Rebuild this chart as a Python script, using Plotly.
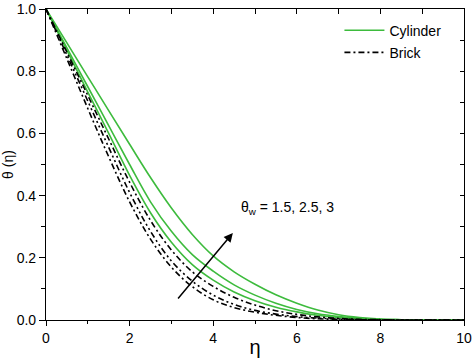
import plotly.graph_objects as go

eta = [0, 0.5, 1, 1.5, 2, 2.5, 3, 3.5, 4, 4.5, 5, 5.5, 6, 6.5, 7, 7.5, 8, 8.5, 9, 9.5, 10]

cyl_15 = [1.0, 0.867, 0.733, 0.600, 0.465, 0.345, 0.250, 0.178, 0.128, 0.090, 0.062, 0.041, 0.026, 0.015, 0.008, 0.004, 0.001, 0, 0, 0, 0]
cyl_25 = [1.0, 0.875, 0.750, 0.625, 0.500, 0.380, 0.285, 0.210, 0.157, 0.113, 0.080, 0.054, 0.034, 0.020, 0.011, 0.005, 0.002, 0.001, 0, 0, 0]
cyl_30 = [1.0, 0.891, 0.782, 0.673, 0.565, 0.458, 0.360, 0.275, 0.206, 0.155, 0.115, 0.081, 0.054, 0.032, 0.017, 0.008, 0.003, 0.001, 0, 0, 0]

brk_15 = [1.0, 0.840, 0.680, 0.525, 0.380, 0.260, 0.170, 0.107, 0.065, 0.040, 0.025, 0.015, 0.008, 0.004, 0.002, 0.001, 0, 0, 0, 0, 0]
brk_25 = [1.0, 0.852, 0.704, 0.555, 0.410, 0.285, 0.190, 0.125, 0.080, 0.050, 0.031, 0.019, 0.011, 0.006, 0.003, 0.001, 0, 0, 0, 0, 0]
brk_30 = [1.0, 0.861, 0.722, 0.582, 0.443, 0.320, 0.225, 0.155, 0.108, 0.073, 0.048, 0.030, 0.018, 0.010, 0.005, 0.002, 0.001, 0, 0, 0, 0]

x_ticks = [0, 2, 4, 6, 8, 10]
y_ticks = [0.0, 0.2, 0.4, 0.6, 0.8, 1.0]

GREEN = "#3dbb3d"
FONT = "Liberation Sans, Arial, sans-serif"

fig = go.Figure()

for i, ys in enumerate([cyl_15, cyl_25, cyl_30]):
    fig.add_trace(go.Scatter(x=eta, y=ys, mode="lines", line=dict(color=GREEN, width=1.6, shape="spline"),
                             name="Cylinder", showlegend=(i == 0), legendgroup="c"))

dashes = ["6px,3px,2px,3px", "6px,3px,2px,3px,2px,3px", "6px,3px,2px,3px"]
for i, ys in enumerate([brk_15, brk_25, brk_30]):
    fig.add_trace(go.Scatter(x=eta, y=ys, mode="lines", line=dict(color="black", width=1.6, dash=dashes[i], shape="spline"),
                             name="Brick", showlegend=(i == 0), legendgroup="b"))

# mirror axes with inward ticks
fig.add_trace(go.Scatter(x=[0], y=[0], xaxis="x2", yaxis="y2", mode="markers",
                         marker=dict(opacity=0), showlegend=False, hoverinfo="skip"))

axis_common = dict(showgrid=False, zeroline=False, showline=True, linecolor="black", linewidth=1.2,
                   automargin=False)

fig.update_layout(
    width=474, height=358,
    margin=dict(l=46, r=10, t=9, b=38),
    plot_bgcolor="white", paper_bgcolor="white",
    font=dict(family=FONT, size=14, color="black"),
    xaxis=dict(range=[0, 10], tickvals=x_ticks, ticktext=[str(v) for v in x_ticks],
               ticks="outside", ticklen=5, tickwidth=1.2, tickcolor="black",
               minor=dict(dtick=1, ticks="outside", ticklen=3, tickwidth=1.2, tickcolor="black"),
               title=dict(text="η", font=dict(size=20), standoff=0), tickfont=dict(size=14), **axis_common),
    yaxis=dict(range=[0, 1.0], tickvals=y_ticks, ticktext=[f"{v:.1f}" for v in y_ticks],
               ticks="outside", ticklen=6, tickwidth=1.2, tickcolor="black",
               minor=dict(dtick=0.1, ticks="outside", ticklen=4, tickwidth=1.2, tickcolor="black"),
               title=dict(text="θ (η)", font=dict(size=14), standoff=4), tickfont=dict(size=14), **axis_common),
    xaxis2=dict(range=[0, 10], overlaying="x", side="top", dtick=1, ticks="inside", ticklen=5,
                tickwidth=1.2, tickcolor="black", showticklabels=False, **axis_common),
    yaxis2=dict(range=[0, 1.0], overlaying="y", side="right", dtick=0.1, ticks="inside", ticklen=4,
                tickwidth=1.2, tickcolor="black", showticklabels=False, **axis_common),
    legend=dict(x=0.702, y=0.982, xanchor="left", yanchor="top", bgcolor="rgba(0,0,0,0)",
                font=dict(size=14), tracegroupgap=1, itemwidth=40),
    showlegend=True,
)

fig.add_annotation(x=4.47, y=0.28, ax=3.13, ay=0.064, xref="x", yref="y", axref="x", ayref="y",
                   showarrow=True, arrowhead=2, arrowsize=1.2, arrowwidth=1.5, arrowcolor="black", text="")
fig.add_annotation(x=4.62, y=0.36, xref="x", yref="y", xanchor="left", yanchor="middle",
                   text="θ<sub>w</sub> = 1.5, 2.5, 3", showarrow=False, font=dict(size=14, family=FONT))

fig.write_html("out.html", config={"displayModeBar": False},
               post_script="document.body.style.margin='0';document.body.style.padding='0';"
                           "document.body.style.overflow='hidden';")
